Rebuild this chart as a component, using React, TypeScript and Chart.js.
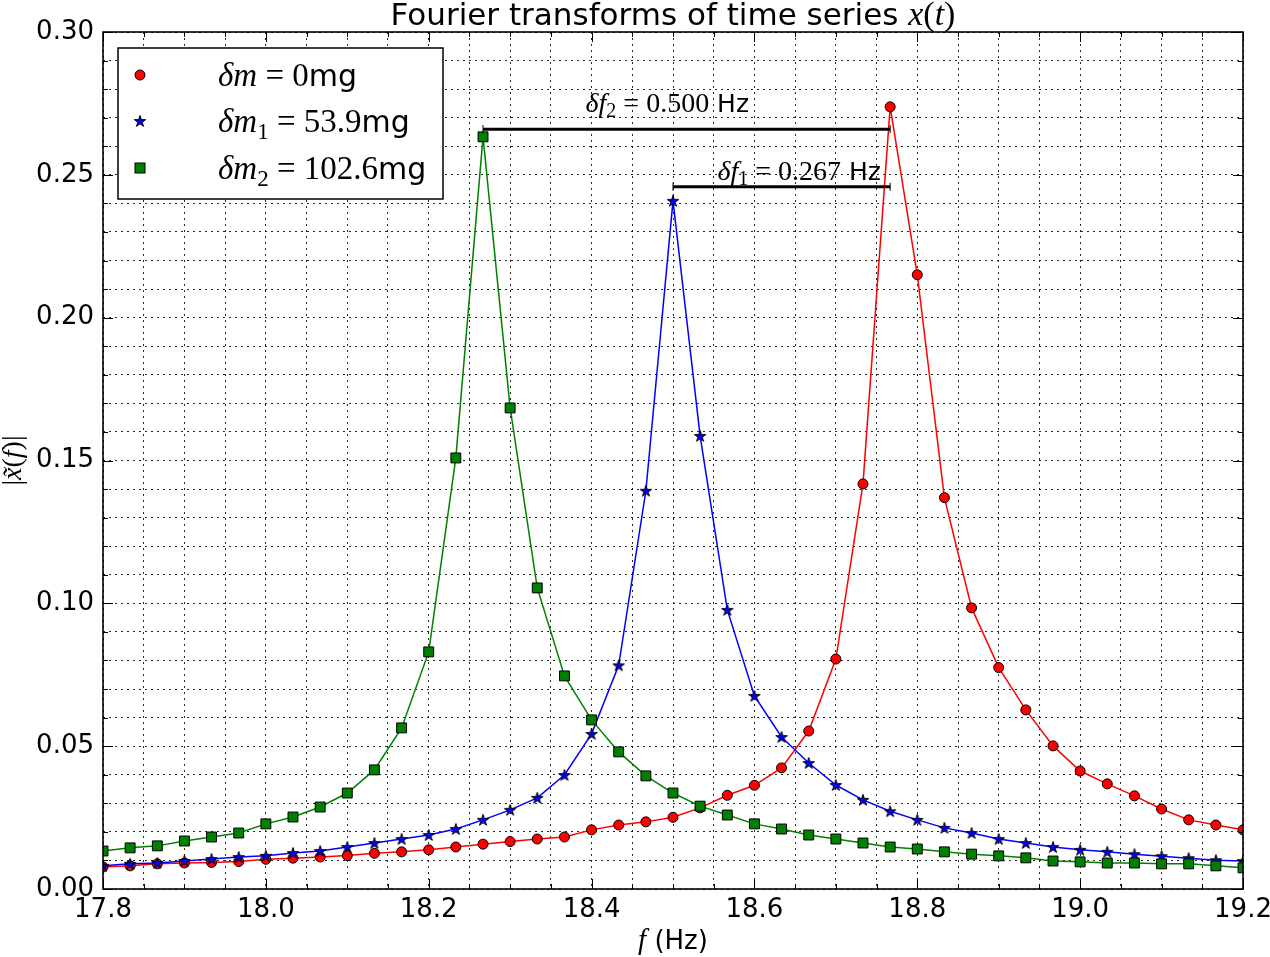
import React, { useEffect, useRef } from 'react';
import { Chart, registerables } from 'chart.js';

Chart.register(...registerables);

// Sampled frequencies (Hz)
const FREQS = [
  17.8, 17.8333, 17.8667, 17.9, 17.9333, 17.9667, 18.0, 18.0333, 18.0667, 18.1,
  18.1333, 18.1667, 18.2, 18.2333, 18.2667, 18.3, 18.3333, 18.3667, 18.4, 18.4333,
  18.4667, 18.5, 18.5333, 18.5667, 18.6, 18.6333, 18.6667, 18.7, 18.7333, 18.7667,
  18.8, 18.8333, 18.8667, 18.9, 18.9333, 18.9667, 19.0, 19.0333, 19.0667, 19.1,
  19.1333, 19.1667, 19.2,
];

// |x~(f)| for the unloaded oscillator (δm = 0 mg)
const AMP_M0 = [
  0.0077, 0.0081, 0.0088, 0.0091, 0.0093, 0.0096, 0.0104, 0.0108, 0.0112, 0.0117,
  0.0125, 0.0130, 0.0137, 0.0147, 0.0157, 0.0166, 0.0175, 0.0182, 0.0207, 0.0224,
  0.0235, 0.0251, 0.0284, 0.0328, 0.0363, 0.0424, 0.0553, 0.0805, 0.1418, 0.2738,
  0.2150, 0.1370, 0.0984, 0.0775, 0.0627, 0.0501, 0.0413, 0.0368, 0.0326, 0.0280,
  0.0242, 0.0224, 0.0207,
];

// |x~(f)| with the first added mass
const AMP_M1 = [
  0.0081, 0.0088, 0.0091, 0.0098, 0.0105, 0.0112, 0.0116, 0.0126, 0.0133, 0.0147,
  0.0161, 0.0175, 0.0189, 0.0210, 0.0242, 0.0277, 0.0319, 0.0399, 0.0543, 0.0783,
  0.1394, 0.2409, 0.1586, 0.0977, 0.0676, 0.0532, 0.0441, 0.0364, 0.0312, 0.0272,
  0.0242, 0.0214, 0.0196, 0.0175, 0.0161, 0.0147, 0.0137, 0.0130, 0.0122, 0.0115,
  0.0108, 0.0101, 0.0098,
];

// |x~(f)| with the second added mass
const AMP_M2 = [
  0.0133, 0.0144, 0.0151, 0.0168, 0.0182, 0.0196, 0.0228, 0.0252, 0.0287, 0.0336,
  0.0417, 0.0564, 0.0830, 0.1509, 0.2633, 0.1684, 0.1054, 0.0746, 0.0592, 0.0480,
  0.0396, 0.0336, 0.0290, 0.0259, 0.0228, 0.0210, 0.0189, 0.0175, 0.0161, 0.0147,
  0.0140, 0.0130, 0.0122, 0.0116, 0.0109, 0.0098, 0.0095, 0.0091, 0.0091, 0.0088,
  0.0088, 0.0081, 0.0074,
];

// Added masses shown in the legend (mg)
const MASS_LABELS = ['0', '53.9', '102.6'];

// Labelled ticks
const X_MAJOR = [17.8, 18.0, 18.2, 18.4, 18.6, 18.8, 19.0, 19.2];
const Y_MAJOR = [0, 0.05, 0.1, 0.15, 0.2, 0.25, 0.3];

// Heights of the peak-separation brackets and their label anchors
const BRACKET_Y = { df1: 0.2458, df2: 0.266 };
const BRACKET_LABEL = {
  df1: { x: 18.655, y: 0.2482 },
  df2: { x: 18.493, y: 0.272 },
};

const SANS = '"DejaVu Sans", sans-serif';
const MATH = '"Liberation Serif", "DejaVu Serif", serif';
const it = (px: number) => `italic ${px}px ${MATH}`;
const rm = (px: number) => `${px}px ${MATH}`;
const sf = (px: number) => `${px}px ${SANS}`;

type Seg = { t: string; f: string; dy?: number };

function drawRich(
  ctx: CanvasRenderingContext2D,
  segs: Seg[],
  x: number,
  y: number,
  align: 'left' | 'center' | 'right' = 'left'
) {
  ctx.save();
  ctx.textBaseline = 'alphabetic';
  ctx.textAlign = 'left';
  ctx.fillStyle = '#000';
  let w = 0;
  for (const s of segs) {
    ctx.font = s.f;
    w += ctx.measureText(s.t).width;
  }
  let cx = align === 'center' ? x - w / 2 : align === 'right' ? x - w : x;
  for (const s of segs) {
    ctx.font = s.f;
    ctx.fillText(s.t, cx, y + (s.dy || 0));
    cx += ctx.measureText(s.t).width;
  }
  ctx.restore();
}

function makeStar(R: number, fill: string): HTMLCanvasElement {
  const size = Math.ceil(R * 2 + 4);
  const c = document.createElement('canvas');
  c.width = size;
  c.height = size;
  const g = c.getContext('2d')!;
  const cx = size / 2;
  const cy = size / 2 + 0.5;
  const r = R * 0.382;
  g.beginPath();
  for (let i = 0; i < 10; i++) {
    const a = -Math.PI / 2 + (i * Math.PI) / 5;
    const rr = i % 2 === 0 ? R : r;
    g.lineTo(cx + rr * Math.cos(a), cy + rr * Math.sin(a));
  }
  g.closePath();
  g.fillStyle = fill;
  g.fill();
  g.lineWidth = 1;
  g.strokeStyle = '#000';
  g.stroke();
  return c;
}

function peakFreq(amps: number[]): number {
  let best = 0;
  for (let i = 1; i < amps.length; i++) if (amps[i] > amps[best]) best = i;
  return FREQS[best];
}

const isNear = (v: number, list: number[]) => list.find((m) => Math.abs(m - v) < 1e-6);

export default function App() {
  const ref = useRef<HTMLCanvasElement | null>(null);

  useEffect(() => {
    document.body.style.margin = '0';
    const canvas = ref.current!;
    const star = makeStar(6, '#0000ff');

    const toXY = (ys: number[]) => ys.map((y, i) => ({ x: FREQS[i], y }));

    const f0 = peakFreq(AMP_M0);
    const f1 = peakFreq(AMP_M1);
    const f2 = peakFreq(AMP_M2);

    const overlay = {
      id: 'overlay',
      afterDatasetsDraw(chart: any) {
        const ctx: CanvasRenderingContext2D = chart.ctx;
        const { left, right, top, bottom } = chart.chartArea;
        const xs = chart.scales.x;
        const ys = chart.scales.y;

        // inward tick marks on all four sides
        ctx.save();
        ctx.strokeStyle = '#000';
        ctx.lineWidth = 1;
        ctx.beginPath();
        for (const t of xs.ticks) {
          const px = Math.round(xs.getPixelForValue(t.value)) + 0.5;
          const len = isNear(t.value, X_MAJOR) !== undefined ? 10 : 5;
          ctx.moveTo(px, bottom);
          ctx.lineTo(px, bottom - len);
          ctx.moveTo(px, top);
          ctx.lineTo(px, top + len);
        }
        for (const t of ys.ticks) {
          const py = Math.round(ys.getPixelForValue(t.value)) + 0.5;
          const len = isNear(t.value, Y_MAJOR) !== undefined ? 10 : 5;
          ctx.moveTo(left, py);
          ctx.lineTo(left + len, py);
          ctx.moveTo(right, py);
          ctx.lineTo(right - len, py);
        }
        ctx.stroke();

        // axes frame
        ctx.lineWidth = 1.6;
        ctx.strokeRect(left, top, right - left, bottom - top);
        ctx.restore();

        // peak-separation brackets
        const bracket = (fa: number, fb: number, yv: number) => {
          const xa = xs.getPixelForValue(fa);
          const xb = xs.getPixelForValue(fb);
          const py = ys.getPixelForValue(yv);
          ctx.save();
          ctx.strokeStyle = '#000';
          ctx.lineWidth = 3;
          ctx.beginPath();
          ctx.moveTo(xa, py);
          ctx.lineTo(xb, py);
          ctx.stroke();
          ctx.lineWidth = 1;
          ctx.beginPath();
          ctx.moveTo(xa, py - 4);
          ctx.lineTo(xa, py + 4);
          ctx.moveTo(xb, py - 4);
          ctx.lineTo(xb, py + 4);
          ctx.stroke();
          ctx.restore();
        };
        bracket(f2, f0, BRACKET_Y.df2);
        bracket(f1, f0, BRACKET_Y.df1);

        const bracketText = (sub: string, df: number): Seg[] => [
          { t: 'δf', f: it(28) },
          { t: sub, f: rm(20), dy: 5 },
          { t: ' = ' + df.toFixed(3), f: rm(28) },
          { t: ' Hz', f: sf(25) },
        ];
        drawRich(
          ctx,
          bracketText('2', f0 - f2),
          xs.getPixelForValue(BRACKET_LABEL.df2.x),
          ys.getPixelForValue(BRACKET_LABEL.df2.y),
          'center'
        );
        drawRich(
          ctx,
          bracketText('1', f0 - f1),
          xs.getPixelForValue(BRACKET_LABEL.df1.x),
          ys.getPixelForValue(BRACKET_LABEL.df1.y),
          'center'
        );

        // legend
        const lx = left + 15;
        const ly = top + 16;
        const lw = 325;
        const lh = 151;
        ctx.save();
        ctx.fillStyle = '#fff';
        ctx.fillRect(lx, ly, lw, lh);
        ctx.strokeStyle = '#000';
        ctx.lineWidth = 1.5;
        ctx.strokeRect(lx, ly, lw, lh);
        ctx.restore();

        const rowY = [ly + 27, ly + 73, ly + 120];
        const mx = lx + 22;
        ctx.save();
        ctx.fillStyle = '#ff0000';
        ctx.strokeStyle = '#000';
        ctx.lineWidth = 1;
        ctx.beginPath();
        ctx.arc(mx, rowY[0], 5, 0, Math.PI * 2);
        ctx.fill();
        ctx.stroke();
        ctx.drawImage(star, mx - star.width / 2, rowY[1] - star.height / 2);
        ctx.fillStyle = '#008000';
        ctx.fillRect(mx - 5, rowY[2] - 5, 10, 10);
        ctx.strokeRect(mx - 5, rowY[2] - 5, 10, 10);
        ctx.restore();

        const tx = lx + 100;
        const subs = ['', '1', '2'];
        MASS_LABELS.forEach((m, i) => {
          const segs: Seg[] = [{ t: 'δm', f: it(33) }];
          if (subs[i]) segs.push({ t: subs[i], f: rm(23), dy: 7 });
          segs.push({ t: ' = ' + m, f: rm(33) });
          segs.push({ t: 'mg', f: sf(30) });
          drawRich(ctx, segs, tx, rowY[i] + 11, 'left');
        });

        // title and axis labels
        const cxp = (left + right) / 2;
        drawRich(
          ctx,
          [
            { t: 'Fourier transforms of time series ', f: sf(31) },
            { t: 'x', f: it(34) },
            { t: '(', f: rm(34) },
            { t: 't', f: it(34) },
            { t: ')', f: rm(34) },
          ],
          cxp,
          25,
          'center'
        );
        drawRich(
          ctx,
          [
            { t: 'f', f: it(29) },
            { t: ' (Hz)', f: sf(26) },
          ],
          cxp,
          949,
          'center'
        );
        ctx.save();
        ctx.translate(21, (top + bottom) / 2);
        ctx.rotate(-Math.PI / 2);
        drawRich(
          ctx,
          [
            { t: '|', f: rm(28) },
            { t: 'x\u0303', f: it(28) },
            { t: '(', f: rm(28) },
            { t: 'f', f: it(28) },
            { t: ')', f: rm(28) },
            { t: '|', f: rm(28) },
          ],
          0,
          0,
          'center'
        );
        ctx.restore();
      },
    };

    const chart = new Chart(canvas, {
      type: 'line',
      data: {
        datasets: [
          {
            label: 'δm = ' + MASS_LABELS[0] + 'mg',
            data: toXY(AMP_M0),
            borderColor: '#ff0000',
            backgroundColor: '#ff0000',
            borderWidth: 1.5,
            pointStyle: 'circle',
            pointRadius: 5,
            pointBorderColor: '#000',
            pointBorderWidth: 1,
            order: 2,
            clip: 0,
          },
          {
            label: 'δm1 = ' + MASS_LABELS[1] + 'mg',
            data: toXY(AMP_M1),
            borderColor: '#0000ff',
            backgroundColor: '#0000ff',
            borderWidth: 1.5,
            pointStyle: star,
            pointRadius: 6,
            order: 1,
            clip: 0,
          },
          {
            label: 'δm2 = ' + MASS_LABELS[2] + 'mg',
            data: toXY(AMP_M2),
            borderColor: '#008000',
            backgroundColor: '#008000',
            borderWidth: 1.5,
            pointStyle: 'rect',
            pointRadius: 7,
            pointBorderColor: '#000',
            pointBorderWidth: 1,
            order: 0,
            clip: 0,
          },
        ],
      } as any,
      options: {
        responsive: false,
        animation: false,
        devicePixelRatio: 1,
        layout: { padding: { left: 0, right: 27, top: 32, bottom: 0 } },
        plugins: {
          legend: { display: false },
          tooltip: { enabled: false },
          title: { display: false },
        },
        scales: {
          x: {
            type: 'linear',
            min: 17.8,
            max: 19.2,
            ticks: {
              stepSize: 0.05,
              autoSkip: false,
              maxRotation: 0,
              padding: 6,
              color: '#000',
              font: { family: SANS, size: 26 },
              callback: (v: any) => {
                const m = isNear(Number(v), X_MAJOR);
                return m !== undefined ? m.toFixed(1) : '';
              },
            },
            grid: { color: 'rgba(0,0,0,0.85)', lineWidth: 1, drawTicks: false },
            border: { display: false, dash: [2, 4] },
            afterFit: (s: any) => {
              s.height = 68;
              s.paddingLeft = 0;
              s.paddingRight = 0;
            },
          },
          y: {
            type: 'linear',
            min: 0,
            max: 0.3,
            ticks: {
              stepSize: 0.01,
              autoSkip: false,
              padding: 9,
              color: '#000',
              font: { family: SANS, size: 26 },
              callback: (v: any) => {
                const m = isNear(Number(v), Y_MAJOR);
                return m !== undefined ? m.toFixed(2) : '';
              },
            },
            grid: { color: 'rgba(0,0,0,0.85)', lineWidth: 1, drawTicks: false },
            border: { display: false, dash: [2, 4] },
            afterFit: (s: any) => {
              s.width = 103;
              s.paddingTop = 0;
              s.paddingBottom = 0;
            },
          },
        },
      } as any,
      plugins: [overlay],
    });

    return () => chart.destroy();
  }, []);

  return <canvas ref={ref} width={1270} height={957} style={{ display: 'block' }} />;
}
